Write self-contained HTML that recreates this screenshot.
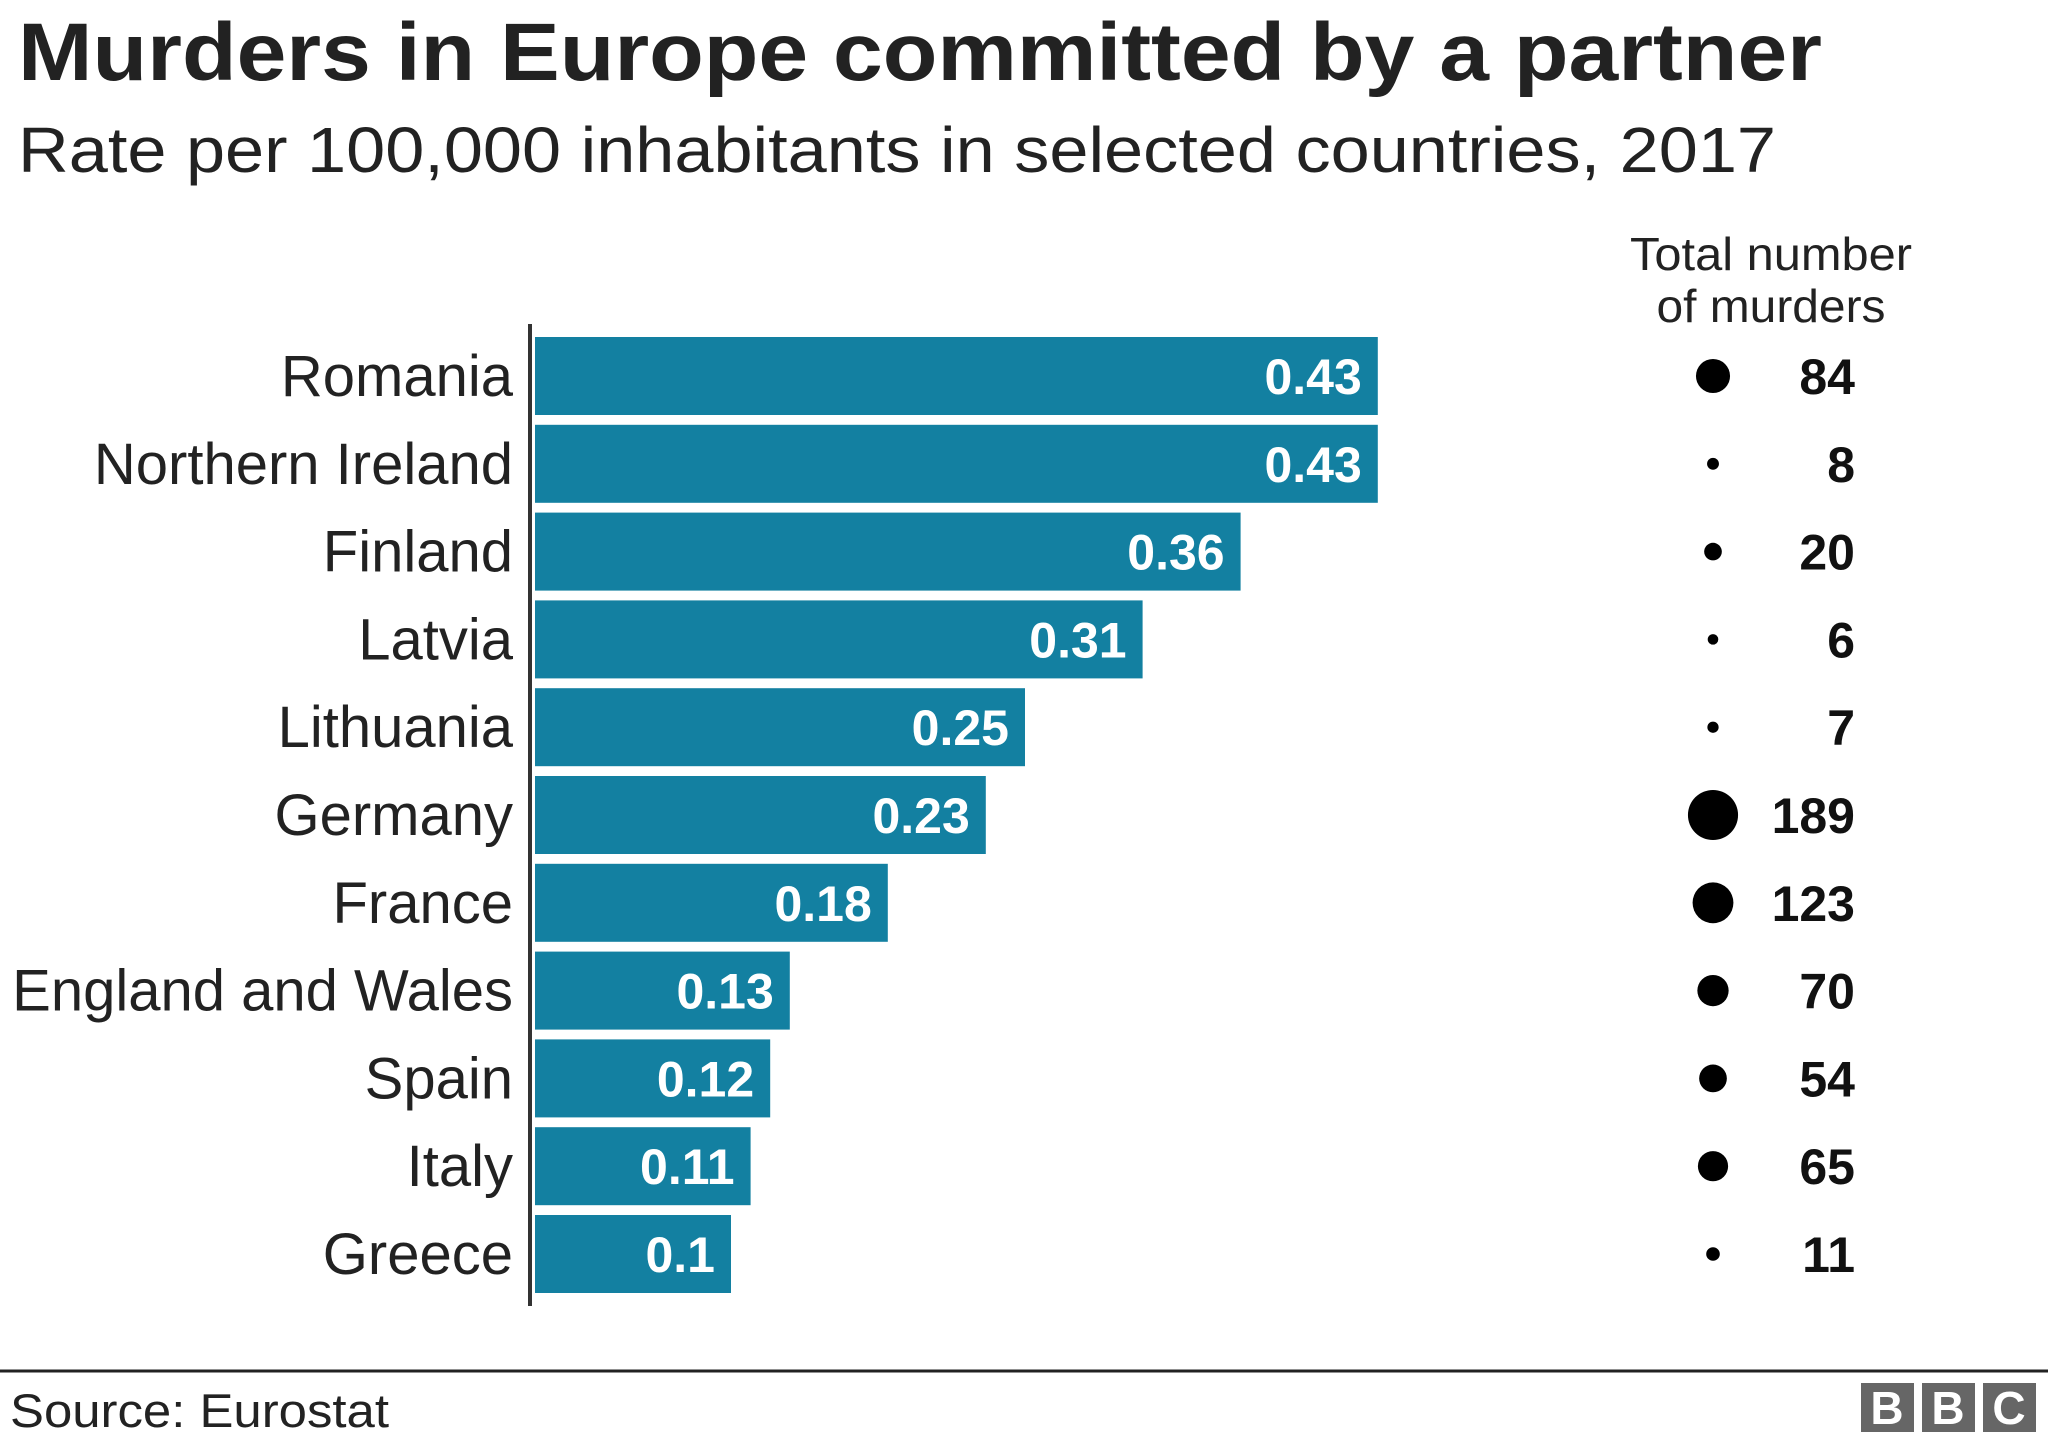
<!DOCTYPE html>
<html><head><meta charset="utf-8"><style>
body{margin:0;background:#fff;}
svg{display:block;font-family:"Liberation Sans",Arial,sans-serif;}
</style></head><body>
<svg id="chart" width="2048" height="1440" viewBox="0 0 2048 1440">
<text x="18" y="80" font-size="82" font-weight="bold" fill="#222" textLength="1804" lengthAdjust="spacingAndGlyphs">Murders in Europe committed by a partner</text>
<text x="18" y="172" font-size="64" fill="#222" textLength="1758" lengthAdjust="spacingAndGlyphs">Rate per 100,000 inhabitants in selected countries, 2017</text>
<text x="1771" y="270" font-size="46" fill="#222" text-anchor="middle" textLength="282" lengthAdjust="spacingAndGlyphs">Total number</text>
<text x="1771" y="322" font-size="46" fill="#222" text-anchor="middle" textLength="229" lengthAdjust="spacingAndGlyphs">of murders</text>
<g id="bars"></g>
<line x1="530" y1="324" x2="530" y2="1306" stroke="#333" stroke-width="4"/>
<line x1="0" y1="1371" x2="2048" y2="1371" stroke="#222" stroke-width="3"/>
<text x="10" y="1427" font-size="47" fill="#222" textLength="379" lengthAdjust="spacingAndGlyphs">Source: Eurostat</text>
<g font-weight="bold" font-size="46" fill="#fff" text-anchor="middle">
<rect x="1861" y="1383" width="53" height="49" fill="#666"/><text x="1887" y="1424">B</text>
<rect x="1922" y="1383" width="53" height="49" fill="#666"/><text x="1948" y="1424">B</text>
<rect x="1983" y="1383" width="53" height="49" fill="#666"/><text x="2009" y="1424">C</text>
</g>
</svg>
<script>
const countries=["Romania","Northern Ireland","Finland","Latvia","Lithuania","Germany","France","England and Wales","Spain","Italy","Greece"];
const rates=[0.43,0.43,0.36,0.31,0.25,0.23,0.18,0.13,0.12,0.11,0.1];
const rateLabels=["0.43","0.43","0.36","0.31","0.25","0.23","0.18","0.13","0.12","0.11","0.1"];
const totals=[84,8,20,6,7,189,123,70,54,65,11];
const NS="http://www.w3.org/2000/svg";
const x0=535, pxPerUnit=1960;
function xScale(v){return v*pxPerUnit;}
function yScale(i){return 337+i*87.8;}
function rScale(n){return 1.75*Math.sqrt(n)+1;}
const g=document.getElementById('bars');
function mk(tag,attrs){const e=document.createElementNS(NS,tag);for(const k in attrs)e.setAttribute(k,attrs[k]);g.appendChild(e);return e;}
countries.forEach((c,i)=>{
  const y=yScale(i), h=78, w=xScale(rates[i]), cy=y+h/2;
  const r=mk('rect',{x:x0,y:y,width:w,height:h,fill:'#1380A1'});
  
  
  const l=mk('text',{x:513,y:cy+20,'font-size':58,fill:'#222','text-anchor':'end'});
  l.textContent=c;
  
  
  const v=mk('text',{x:x0+w-16,y:cy+18,'font-size':50,'font-weight':'bold',fill:'#fff','text-anchor':'end'});
  v.textContent=rateLabels[i];
  
  
  const d=mk('circle',{cx:1713,cy:cy,r:rScale(totals[i]),fill:'#000'});
  
  
  const t=mk('text',{x:1855,y:cy+18,'font-size':50,'font-weight':'bold',fill:'#111','text-anchor':'end'});
  t.textContent=totals[i];
  
  
});
</script>
</body></html>
